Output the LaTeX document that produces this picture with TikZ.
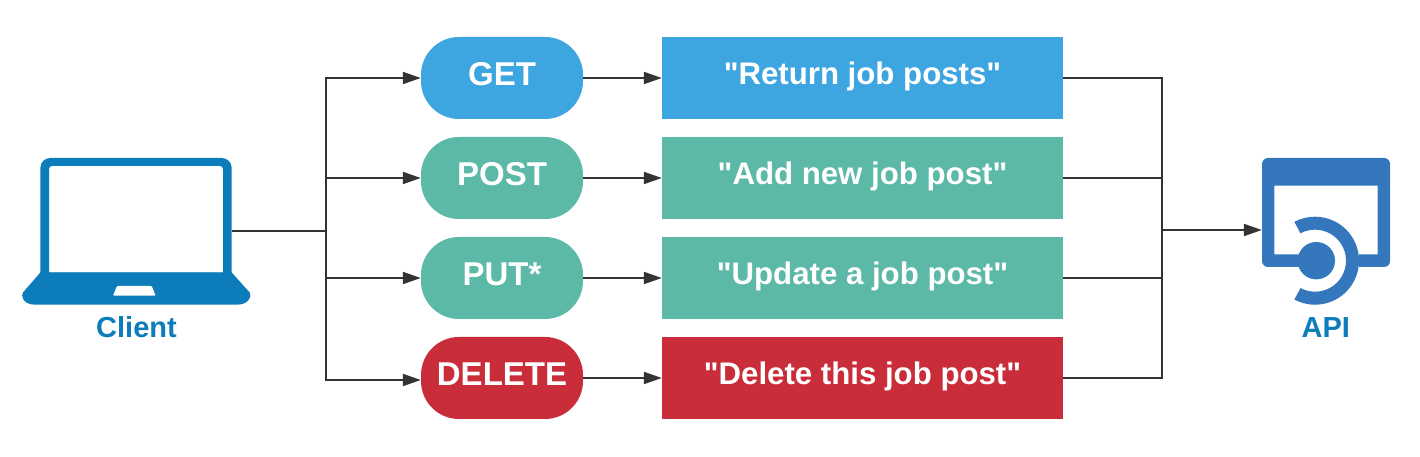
\documentclass[tikz,border=0pt]{standalone}
\usepackage{fontspec}
\newfontfamily\labelfont{Liberation Sans}
\usetikzlibrary{arrows.meta}
\definecolor{getblue}{HTML}{3DA5DF}
\definecolor{postgreen}{HTML}{5CB8A7}
\definecolor{delred}{HTML}{C92D39}
\definecolor{clientblue}{HTML}{0C7CBA}
\definecolor{apiblue}{HTML}{3477BC}
\definecolor{linegray}{HTML}{333333}
\tikzset{
  verb/.style={minimum width=162pt,minimum height=82pt,inner sep=0pt,rounded corners=38pt,
    text=white,font=\labelfont\fontsize{33}{36}\selectfont\bfseries,text height=24pt,text depth=8pt},
  action/.style={minimum width=401pt,minimum height=82pt,inner sep=0pt,
    text=white,font=\labelfont\fontsize{31.2}{36}\selectfont\bfseries,text height=22pt,text depth=9pt},
  iconlabel/.style={anchor=base,inner sep=0pt,text=clientblue,font=\labelfont\fontsize{29}{32}\selectfont\bfseries},
  wire/.style={draw=linegray,line width=2pt},
  flow/.style={wire,-{Triangle[length=18pt,width=12pt]}}
}

\begin{document}
\begin{tikzpicture}[x=1pt,y=1pt]
  \useasboundingbox (0,0) rectangle (1420,457);
  % Method pills
  \node[verb,fill=getblue] (get) at (502,379) {GET};
  \node[verb,fill=postgreen] (post) at (502,279) {POST};
  \node[verb,fill=postgreen] (put) at (502,179) {PUT*};
  \node[verb,fill=delred] (delete) at (502,79) {DELETE};
  % Action boxes
  \node[action,fill=getblue] (aget) at (862.5,379) {"Return job posts"};
  \node[action,fill=postgreen] (apost) at (862.5,279) {"Add new job post"};
  \node[action,fill=postgreen] (aput) at (862.5,179) {"Update a job post"};
  \node[action,fill=delred] (adelete) at (862.5,79) {"Delete this job post"};
  % Laptop
  \node[minimum width=191.4pt,minimum height=146pt,inner sep=0pt] (client) at (136,226) {};
  \fill[clientblue,even odd rule] [rounded corners=10pt] (40.3,170) rectangle (231.7,299)
    (49,184.3) [rounded corners=3pt] -- (49,291) -- (223,291) [sharp corners] -- (223,184.3) -- cycle;
  \fill[clientblue] (40.3,184.5) -- (23,164.5) .. controls (20.5,161.5) and (23,152.3) .. (35,152.3)
    -- (237,152.3) .. controls (249,152.3) and (252,161.5) .. (249.7,164.5) -- (231.7,184.5) -- cycle;
  \fill[white,rounded corners=1pt] (117,171) -- (151.7,171) -- (155.7,161.3) -- (113,161.3) -- cycle;
  \node[iconlabel] (clientlabel) at (136.5,119.5) {Client};
  % API window
  \node[minimum width=128pt,minimum height=148pt,inner sep=0pt] (api) at (1326,227) {};
  \fill[apiblue,even odd rule] [rounded corners=6pt] (1262,190) rectangle (1390,299)
    [sharp corners] (1274.3,202.7) rectangle (1377.7,271.3);
  \fill[white] (1315,196.3) ++(-118:18) arc (-118:118:18) -- ++(118:26) arc (118:-118:44) -- cycle;
  \fill[apiblue] (1315,196.3) ++(118:31) arc (118:-118:31) -- ++(-118:13) arc (-118:118:44) -- cycle;
  \fill[apiblue] (1316.3,196.3) circle (18.7);
  \node[iconlabel] (apilabel) at (1325.8,119.5) {API};
  % Left fan out
  \coordinate (fanout) at (326,226);
  \coordinate (fanlow) at (326,77);
  \draw[wire] (client.east) -- (fanout);
  \draw[flow] (fanout) |- (get.west);
  \draw[flow] (fanout) |- (post.west);
  \draw[flow] (fanout) |- (put.west);
  \draw[flow] (fanout) -- (fanlow) -- (fanlow -| delete.west);
  % Pill to box
  \draw[flow] (get.east) -- (aget.west);
  \draw[flow] (post.east) -- (apost.west);
  \draw[flow] (put.east) -- (aput.west);
  \draw[flow] (delete.east) -- (adelete.west);
  % Right fan in
  \coordinate (fanin) at (1162,227);
  \draw[wire] (aget.east) -| (fanin);
  \draw[wire] (apost.east) -| (fanin);
  \draw[wire] (aput.east) -| (fanin);
  \draw[wire] (adelete.east) -| (fanin);
  \draw[flow] (fanin) -- (api.west);
\end{tikzpicture}
\end{document}
